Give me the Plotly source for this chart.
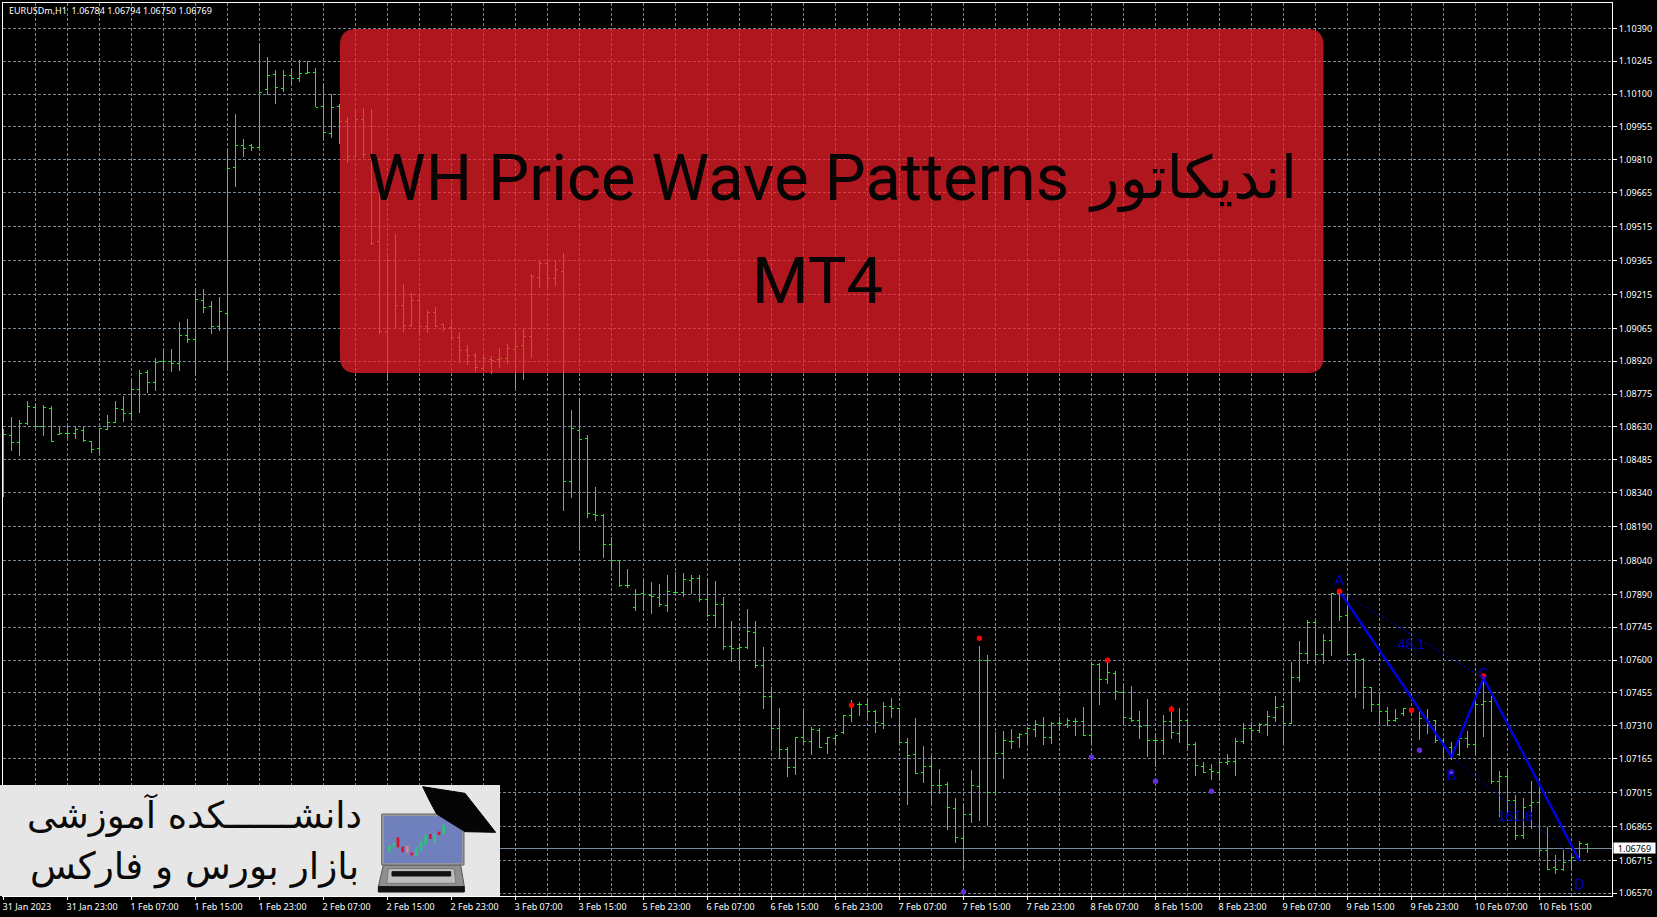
import plotly.graph_objects as go

# OHLC values in points (1 point = 0.00001), EURUSDm H1
opens = [108528,108592,108561,108645,108716,108632,108712,108597,108601,108601,108614,108566,108535,108619,108650,108707,108690,108796,108871,108826,
108919,108919,108910,109034,109016,109189,109162,109074,109131,109776,109873,109873,109864,110121,110187,110125,110182,110169,110191,110196,
110045,109926,110045,109980,109824,109988,109834,109450,109051,109364,109167,109079,109189,109074,109133,109083,109070,109026,108968,108946,
108889,108929,108929,108933,108973,108990,109030,109291,109350,109286,109317,108389,108614,108579,108243,108239,108111,108040,107930,107833,
107895,107886,107877,107842,107899,107899,107952,107961,107868,107798,107846,107661,107652,107656,107723,107577,107440,107299,107206,107126,
107260,107241,107290,107232,107252,107282,107356,107405,107405,107374,107321,107396,107387,107237,107184,107104,107128,107047,107051,106945,
106813,106919,107042,107599,107016,107188,107241,107259,107277,107294,107312,107259,107321,107316,107330,107330,107268,107581,107515,107541,
107458,107343,107334,107312,107246,107246,107330,107277,107334,107228,107131,107118,107104,107148,107153,107241,107299,107290,107316,107347,
107397,107322,107524,107630,107767,107625,107687,107892,107798,107624,107603,107481,107405,107371,107334,107366,107384,107384,107344,107331,
107243,107212,107181,107252,107229,107406,107415,107062,107084,106982,106825,106956,106973,106761,106682,106673,106717,106730,106784]
highs = [108620,108673,108660,108744,108734,108726,108722,108628,108637,108634,108634,108566,108623,108682,108744,108766,108837,108881,108881,108934,
108968,108974,109093,109106,109243,109239,109186,109203,109853,110012,109901,109879,110315,110263,110206,110206,110210,110250,110246,110213,
110144,110098,110054,109997,110030,110039,110034,109676,109394,109482,109261,109222,109217,109146,109160,109083,109101,109048,108992,108955,
108951,108942,108977,108995,109052,109066,109304,109364,109364,109366,109397,108704,108757,108592,108364,108245,108143,108040,108002,107914,
107963,107945,107936,107976,107988,107985,107976,107976,107963,107949,107879,107773,107671,107826,107773,107658,107483,107388,107216,107260,
107378,107303,107299,107260,107269,107356,107424,107413,107427,107378,107413,107431,107387,107256,107344,107221,107176,107119,107062,106991,
106964,107115,107662,107622,107282,107287,107296,107277,107303,107335,107349,107327,107349,107344,107344,107391,107592,107587,107596,107552,
107486,107486,107375,107428,107274,107357,107397,107388,107335,107238,107150,107141,107163,107185,107256,107322,107327,107322,107375,107441,
107397,107592,107684,107777,107771,107715,107895,107899,107887,107630,107608,107481,107455,107393,107384,107388,107387,107388,107384,107335,
107256,107238,107256,107287,107424,107519,107441,107110,107115,107004,106991,107066,107048,106864,106739,106761,106739,106803,106794]
lows = [108320,108523,108501,108638,108623,108589,108563,108594,108581,108576,108563,108514,108508,108619,108650,108651,108660,108691,108779,108788,
108877,108872,108877,109000,108859,109133,109040,109053,108879,109689,109822,109848,109860,110095,110056,110109,110140,110153,110187,110041,
109906,109906,109879,109797,109820,109819,109434,109042,108848,109066,109051,109073,109036,109046,109073,109055,109011,108914,108905,108873,
108879,108865,108892,108909,108801,108837,108932,109244,109239,109252,108258,108316,108083,108227,108214,108051,108004,107923,107918,107817,
107818,107804,107834,107812,107895,107879,107892,107857,107790,107745,107645,107593,107553,107649,107565,107384,107209,107168,107084,107093,
107225,107181,107212,107185,107225,107274,107327,107353,107344,107278,107296,107344,107232,106960,107097,107057,106969,107009,106850,106792,
106679,106881,106888,106867,107009,107075,107207,107212,107229,107260,107225,107229,107287,107300,107265,107265,107234,107402,107494,107424,
107313,107327,107252,107172,107128,107181,107252,107234,107203,107088,107101,107070,107075,107137,107088,107229,107247,107278,107265,107327,
107234,107321,107503,107583,107578,107584,107618,107774,107622,107433,107385,107371,107315,107309,107325,107353,107362,107247,107274,107234,
107163,107159,107175,107212,107181,107260,107053,106907,106920,106807,106811,106856,106732,106673,106655,106669,106673,106726,106750]
closes = [108597,108561,108645,108720,108632,108716,108566,108601,108601,108619,108570,108531,108623,108650,108712,108690,108796,108866,108826,108915,
108919,108910,109034,109016,109193,109158,109074,109140,109772,109873,109860,109864,110107,110182,110129,110182,110169,110191,110196,110041,
109931,110041,109979,109824,109988,109834,109441,109051,109364,109167,109079,109189,109074,109133,109074,109066,109026,108968,108946,108893,
108933,108924,108933,108977,108986,109030,109295,109350,109286,109323,108389,108623,108575,108248,108239,108111,108040,107930,107930,107890,
107890,107882,107846,107904,107899,107957,107961,107868,107798,107846,107661,107652,107656,107727,107577,107440,107299,107206,107126,107260,
107241,107294,107215,107256,107268,107356,107400,107405,107374,107325,107393,107387,107237,107179,107101,107128,107047,107047,106950,106817,
106919,107047,107599,107016,107188,107246,107241,107272,107299,107316,107259,107321,107321,107334,107330,107268,107581,107515,107546,107462,
107347,107334,107307,107246,107246,107330,107281,107334,107228,107135,107104,107109,107148,107153,107241,107299,107290,107316,107352,107391,
107322,107524,107630,107767,107625,107687,107892,107792,107624,107603,107481,107405,107371,107334,107340,107384,107384,107344,107327,107243,
107212,107181,107252,107225,107406,107419,107062,107084,106982,106825,106951,106973,106761,106677,106673,106708,106730,106788,106769]
bar_index = list(range(len(closes)))

# fractal dots
red_idx = [106, 122, 138, 146, 167, 176, 185]
red_pts = [107400, 107696, 107599, 107383, 107904, 107378, 107530]
purple_idx = [120, 136, 144, 151, 177, 181]
purple_pts = [106577, 107171, 107065, 107021, 107202, 107106]

# ABCD pattern
abcd_idx = [167, 181, 185, 197]
abcd_pts = [107904, 107173, 107520, 106714]
label_idx = [167, 181, 185, 197, 176, 189]
label_pts = [107945, 107085, 107535, 106603, 107665, 106906]
label_txt = ["A", "B", "C", "D", "48.1", "161.8"]

# axis labels
price_labels = ["1.10390","1.10245","1.10100","1.09955","1.09810","1.09665","1.09515","1.09365","1.09215","1.09065","1.08920","1.08775","1.08630","1.08485",
"1.08340","1.08190","1.08040","1.07890","1.07745","1.07600","1.07455","1.07310","1.07165","1.07015","1.06865","1.06715","1.06570"]
time_labels = ["31 Jan 2023","31 Jan 23:00","1 Feb 07:00","1 Feb 15:00","1 Feb 23:00","2 Feb 07:00","2 Feb 15:00","2 Feb 23:00","3 Feb 07:00","3 Feb 15:00",
"5 Feb 23:00","6 Feb 07:00","6 Feb 15:00","6 Feb 23:00","7 Feb 07:00","7 Feb 15:00","7 Feb 23:00","8 Feb 07:00","8 Feb 15:00","8 Feb 23:00",
"9 Feb 07:00","9 Feb 15:00","9 Feb 23:00","10 Feb 07:00","10 Feb 15:00"]
last_price = 1.06769

P = lambda a: [v / 100000 for v in a]
W, H = 1657, 917
L_, T_, R_, B_ = 3, 3, 1612, 896
GRID = "#778899"
AX_FONT = dict(family="Noto Sans", size=9, color="white")
GREEN = "#14f014"

def fx(x): return (x - L_) / (R_ - L_)
def fy(y): return (B_ - y) / (B_ - T_)

def rrect(x0, y0, x1, y1, r):
    a, b, c, d = fx(x0), fx(x1), fy(y0), fy(y1)
    dx, dy = r / (R_ - L_), r / (B_ - T_)
    return (f"M{a+dx},{c} L{b-dx},{c} Q{b},{c} {b},{c-dy} L{b},{d+dy} Q{b},{d} {b-dx},{d} "
            f"L{a+dx},{d} Q{a},{d} {a},{d+dy} L{a},{c-dy} Q{a},{c} {a+dx},{c} Z")

def poly(pts):
    return "M" + " L".join(f"{fx(x)},{fy(y)}" for x, y in pts) + " Z"

fig = go.Figure()
fig.add_trace(go.Ohlc(x=bar_index, open=P(opens), high=P(highs), low=P(lows), close=P(closes),
                      increasing_line_color=GREEN, decreasing_line_color=GREEN,
                      line_width=1, tickwidth=0.33, hoverinfo="skip"))
fig.add_trace(go.Scatter(x=abcd_idx[:1] + abcd_idx[2:3], y=P(abcd_pts[:1] + abcd_pts[2:3]), mode="lines",
                         line=dict(color="#0000e6", width=1, dash="2px,3px"), hoverinfo="skip"))
fig.add_trace(go.Scatter(x=abcd_idx[1:2] + abcd_idx[3:], y=P(abcd_pts[1:2] + abcd_pts[3:]), mode="lines",
                         line=dict(color="#0000e6", width=1, dash="2px,3px"), hoverinfo="skip"))
fig.add_trace(go.Scatter(x=abcd_idx, y=P(abcd_pts), mode="lines",
                         line=dict(color="#0000e6", width=2.4), hoverinfo="skip"))
fig.add_trace(go.Scatter(x=red_idx, y=P(red_pts), mode="markers",
                         marker=dict(color="#ff0000", size=5.5), hoverinfo="skip"))
fig.add_trace(go.Scatter(x=purple_idx, y=P(purple_pts), mode="markers",
                         marker=dict(color="#6a2cd8", size=5.5), hoverinfo="skip"))
fig.add_trace(go.Scatter(x=label_idx, y=P(label_pts), mode="text", text=label_txt,
                         textfont=dict(family="Liberation Sans", size=14, color="#0000c4"), hoverinfo="skip"))

shapes = [
    dict(type="line", xref="paper", yref="y", x0=0, x1=1, y0=last_price, y1=last_price,
         line=dict(color=GRID, width=1), layer="between"),
    dict(type="path", xref="paper", yref="paper", path=rrect(340, 29, 1323.5, 373, 16),
         fillcolor="rgba(251,31,43,0.7)", line=dict(width=0), layer="above"),
    dict(type="rect", xref="paper", yref="paper", x0=fx(-3), x1=fx(500), y0=fy(896), y1=fy(785),
         fillcolor="#e6e6e6", line=dict(width=0), layer="above"),
]

def z8(pts):
    return [(x / 3, 770 + y / 3) for x, y in pts]

logo_polys = [
    (z8([(1150,285),(1382,285),(1393,350),(1135,350)]), "#8f8f8f", "#555555"),
    (z8([(1165,296),(1362,296),(1368,340),(1160,340)]), "#bdbdbd", "#777777"),
    (z8([(1176,305),(1352,305),(1352,318),(1176,318)]), "#111111", "#111111"),
    (z8([(1135,350),(1393,350),(1393,366),(1135,366)]), "#111111", "#111111"),
    (z8([(1145,132),(1392,132),(1392,285),(1145,285)]), "#999999", "#666666"),
    (z8([(1153,140),(1385,140),(1385,278),(1153,278)]), "#6f80bd", "#6f80bd"),
    (z8([(1268,50),(1395,70),(1487,187),(1395,185),(1310,132),(1290,95)]), "#050505", "#050505"),
]
for pts, fc, lc in logo_polys:
    shapes.append(dict(type="path", xref="paper", yref="paper", path=poly(pts), fillcolor=fc,
                       line=dict(color=lc, width=1), layer="above"))
logo_candles = [(1168,228,245,"#2ec27e"),(1182,218,232,"#2ec27e"),(1194,202,232,"#e0102f"),(1208,230,247,"#e0102f"),
                (1222,228,248,"#c88aa0"),(1235,248,256,"#e0102f"),(1249,232,258,"#2ec27e"),(1263,215,243,"#2ec27e"),
                (1277,195,225,"#2ec27e"),(1291,192,207,"#e0102f"),(1304,192,218,"#2ec27e"),(1317,185,195,"#e0102f"),
                (1331,165,193,"#2ec27e")]
for x, y0, y1, c in logo_candles:
    shapes.append(dict(type="rect", xref="paper", yref="paper", x0=fx((x-4)/3), x1=fx((x+4)/3),
                       y0=fy(770+y1/3), y1=fy(770+y0/3), fillcolor=c, line=dict(width=0), layer="above"))

TITLE = dict(family="Roboto, DejaVu Sans", size=65, color="#050505")
annos = [
    dict(x=fx(7), y=fy(10.5), text="EURUSDm,H1  1.06784 1.06794 1.06750 1.06769", xanchor="left", yanchor="middle",
         font=AX_FONT, showarrow=False),
    dict(x=fx(1613), y=last_price, yref="y", text="1.06769", xanchor="left", yanchor="middle", showarrow=False,
         bgcolor="white", font=dict(family="Noto Sans", size=9, color="black"), width=41, height=10, borderpad=0),
    dict(x=fx(366), y=fy(178), text="WH Price Wave Patterns", xanchor="left", yanchor="middle", showarrow=False, font=TITLE),
    dict(x=fx(1299), y=fy(178), text="اندیکاتور", xanchor="right", yanchor="middle", showarrow=False,
         font=dict(family="DejaVu Sans", size=59, color="#050505")),
    dict(x=fx(817), y=fy(281), text="MT4", xanchor="center", yanchor="middle", showarrow=False, font=TITLE),
    dict(x=fx(194), y=fy(815), text="دانشــــــکده آموزشی", xanchor="center", yanchor="middle", showarrow=False,
         font=dict(family="DejaVu Sans", size=37, color="#0a0a0a")),
    dict(x=fx(194), y=fy(866), text="بازار بورس و فارکس", xanchor="center", yanchor="middle", showarrow=False,
         font=dict(family="DejaVu Sans", size=37.5, color="#0a0a0a")),
]
for a in annos:
    a.setdefault("xref", "paper")
    a.setdefault("yref", "paper")

fig.update_layout(
    width=W, height=H, showlegend=False, paper_bgcolor="black", plot_bgcolor="black",
    margin=dict(l=L_, r=W - R_, t=T_, b=H - B_, pad=0, autoexpand=False),
    shapes=shapes, annotations=annos, hovermode=False,
    xaxis=dict(range=[-0.0625, 201.0625], rangeslider=dict(visible=False), showline=True, mirror=True, linecolor="white", linewidth=1,
               tickmode="array", tickvals=[8 * k for k in range(len(time_labels))], ticktext=time_labels, tickangle=0,
               ticks="outside", ticklen=3, tickcolor="white", tickwidth=1, tickfont=AX_FONT, ticklabelposition="outside right",
               ticklabelshift=-2, ticklabelstandoff=2,
               showgrid=True, gridcolor=GRID, griddash="3px,2px", gridwidth=1, zeroline=False,
               minor=dict(tickmode="array", tickvals=[4 + 8 * k for k in range(26)], showgrid=True, gridcolor=GRID,
                          griddash="3px,2px", gridwidth=1, ticks="")),
    yaxis=dict(range=[1.06558, 1.10502], side="right", showline=True, mirror=True, linecolor="white", linewidth=1,
               tickmode="array", tickvals=[float(v) for v in price_labels], ticktext=price_labels,
               ticks="outside", ticklen=4, tickcolor="white", tickwidth=1, tickfont=AX_FONT,
               showgrid=True, gridcolor=GRID, griddash="3px,2px", gridwidth=1, zeroline=False),
)
post = """document.body.style.margin='0';document.documentElement.style.overflow='hidden';document.body.style.background='black';
document.querySelectorAll('.ohlc path').forEach(function(p){p.style.shapeRendering='crispEdges';});
document.querySelectorAll('path').forEach(function(p){if(p.style.stroke==='rgb(119, 136, 153)'){p.style.shapeRendering='crispEdges';}});"""
fig.write_html("out.html", post_script=post, config=dict(displayModeBar=False, staticPlot=True))
